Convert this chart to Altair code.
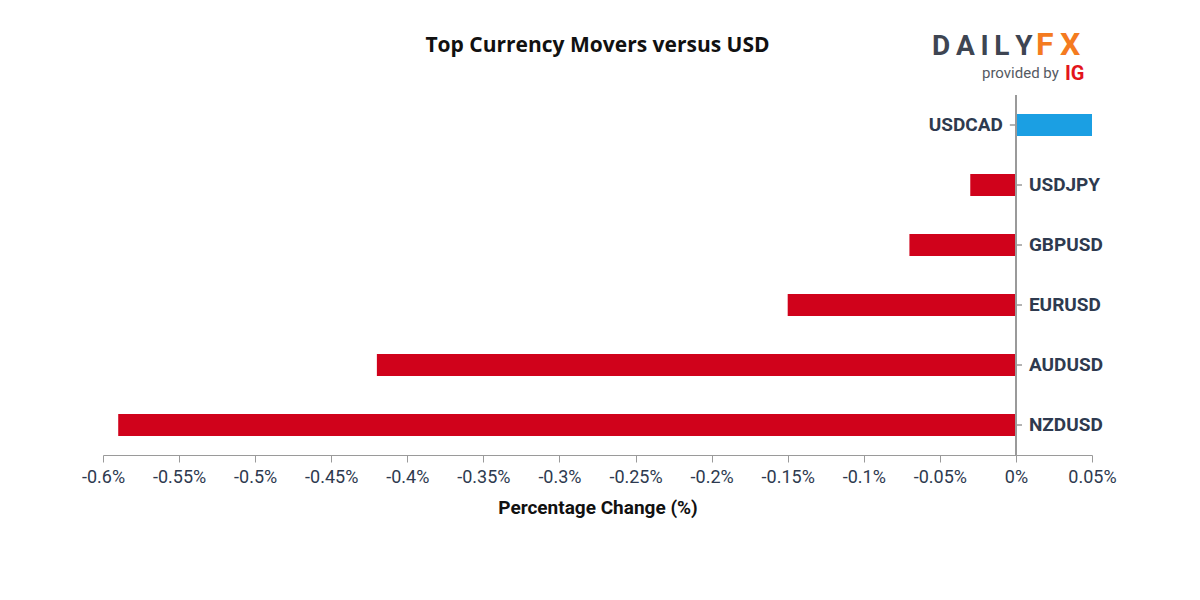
import pandas as pd
import altair as alt

pairs = ["USDCAD", "USDJPY", "GBPUSD", "EURUSD", "AUDUSD", "NZDUSD"]
changes = [0.05, -0.03, -0.07, -0.15, -0.42, -0.59]
tick_values = [-0.6, -0.55, -0.5, -0.45, -0.4, -0.35, -0.3, -0.25, -0.2, -0.15, -0.1, -0.05, 0, 0.05]

RED = "#d0021b"
BLUE = "#1b9fe3"
LABEL_COLOR = "#2e3a4f"
AXIS_COLOR = "#9a9a9a"
W, H = 989, 360

df = pd.DataFrame({"pair": pairs, "change": changes})
df["colour"] = [BLUE if v > 0 else RED for v in changes]
df["zero"] = 0.0
# little tick on the zero line, on the side of the label
df["tick_end"] = [-0.004 if v > 0 else 0.004 for v in changes]

y_enc = alt.Y("pair:N", sort=pairs, axis=None, scale=alt.Scale(paddingInner=0.6, paddingOuter=0.3))
x_scale = alt.Scale(domain=[-0.6, 0.05], nice=False, zero=False)

base = alt.Chart(df)

bars = base.mark_bar(size=22).encode(
    x=alt.X(
        "change:Q",
        scale=x_scale,
        title="Percentage Change (%)",
        axis=alt.Axis(
            values=tick_values,
            labelExpr="(datum.value < 0 ? '-' : '') + format(abs(datum.value), '~g') + '%'",
            labelOverlap=False,
            labelFlush=False,
            grid=False,
            domainColor=AXIS_COLOR,
            tickColor=AXIS_COLOR,
            tickSize=7,
            labelFont="Roboto",
            labelFontSize=18,
            labelColor=LABEL_COLOR,
            labelPadding=6,
            titleFont="Roboto",
            titleFontSize=19,
            titleFontWeight="bold",
            titleColor="#111111",
            titlePadding=12,
        ),
    ),
    x2="zero:Q",
    y=y_enc,
    color=alt.Color("colour:N", scale=None, legend=None),
)

zero_line = base.mark_rule(color=AXIS_COLOR, strokeWidth=1.5).encode(
    x=alt.X("zero:Q", scale=x_scale),
    y=alt.value(0),
    y2=alt.value(H),
)

ticks = base.mark_rule(color=AXIS_COLOR, strokeWidth=1.5).encode(
    x="zero:Q",
    x2="tick_end:Q",
    y=y_enc,
)

label_style = dict(font="Roboto", fontSize=19, fontWeight="bold", color=LABEL_COLOR, baseline="middle")

pos_labels = base.transform_filter("datum.change > 0").mark_text(align="right", dx=-13, **label_style).encode(
    x="zero:Q", y=y_enc, text="pair:N"
)
neg_labels = base.transform_filter("datum.change <= 0").mark_text(align="left", dx=13, **label_style).encode(
    x="zero:Q", y=y_enc, text="pair:N"
)

# DailyFX logo, top right
daily = alt.Chart(pd.DataFrame({"t": ["D\u2009A\u2009I\u2009L\u2009Y"]})).mark_text(
    font="Roboto", fontSize=28, fontWeight="bold", color="#3e4552", align="left", baseline="alphabetic"
).encode(x=alt.value(829), y=alt.value(-40), text="t:N")
fx = alt.Chart(pd.DataFrame({"t": ["F\u2009X"]})).mark_text(
    font="Roboto", fontSize=32, fontWeight="bold", color="#f47b20", align="left", baseline="alphabetic"
).encode(x=alt.value(933), y=alt.value(-40), text="t:N")
provided = alt.Chart(pd.DataFrame({"t": ["provided by"]})).mark_text(
    font="Roboto", fontSize=15, color="#555a63", align="left", baseline="alphabetic"
).encode(x=alt.value(879), y=alt.value(-17), text="t:N")
ig = alt.Chart(pd.DataFrame({"t": ["IG"]})).mark_text(
    font="Roboto", fontSize=20, fontWeight="bold", color="#e3151c", align="left", baseline="alphabetic"
).encode(x=alt.value(962), y=alt.value(-15), text="t:N")

chart = (
    alt.layer(bars, zero_line, ticks, pos_labels, neg_labels, daily, fx, provided, ig)
    .properties(
        width=W,
        height=H,
        autosize=alt.AutoSizeParams(type="none"),
        padding={"left": 95, "top": 87, "right": 100, "bottom": 90},
        title=alt.TitleParams(
            "Top Currency Movers versus USD",
            font="Open Sans",
            fontSize=21,
            fontWeight="bold",
            color="#111111",
            anchor="middle",
            offset=-27,
        ),
    )
    .configure_view(stroke=None)
)

chart.save("out.html", embed_options={"renderer": "svg", "actions": False})
